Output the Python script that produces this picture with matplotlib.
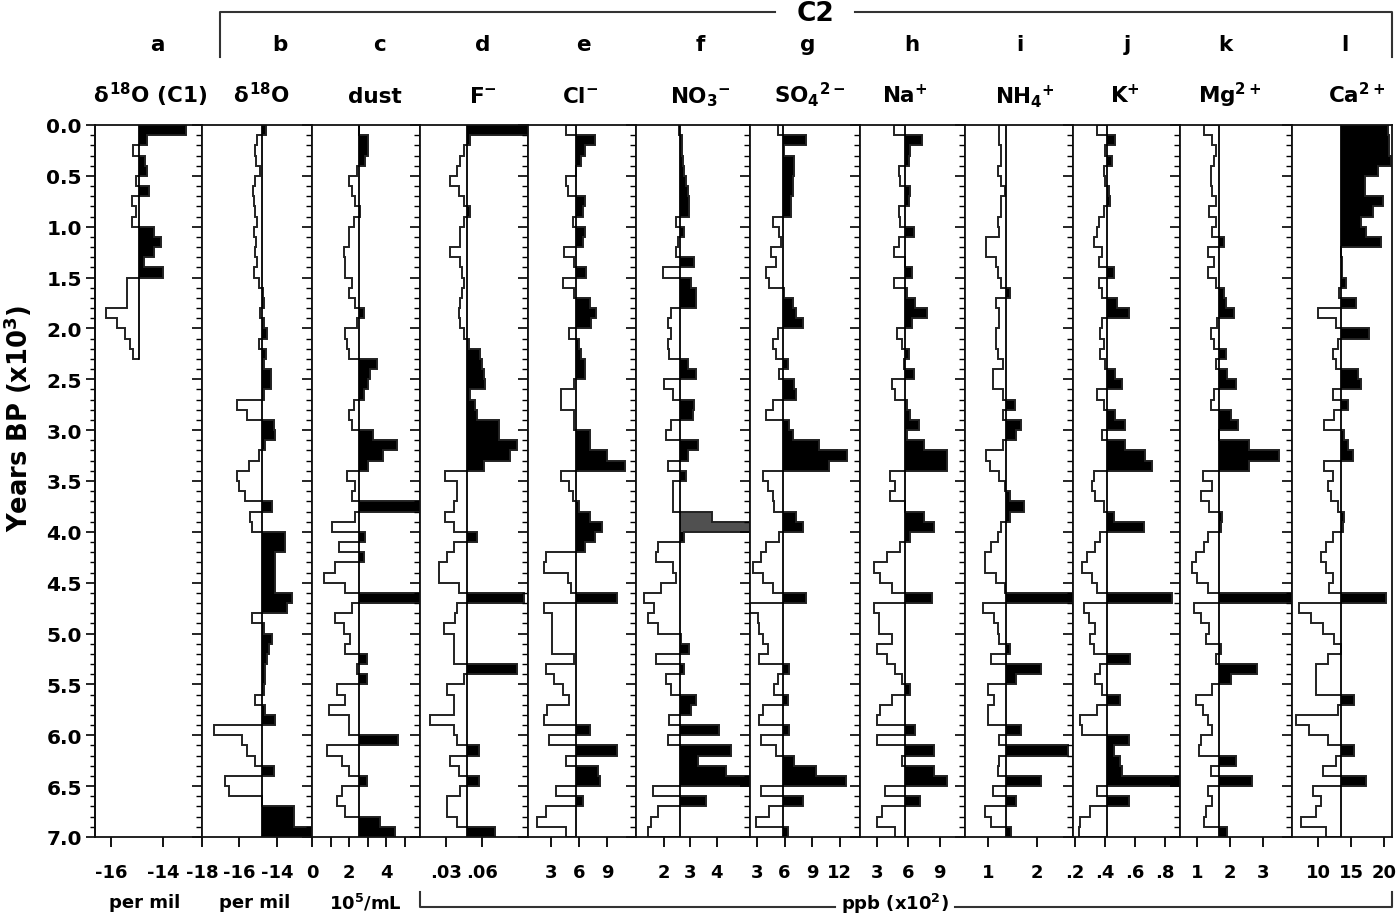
import numpy as np
import matplotlib.pyplot as plt
from matplotlib.lines import Line2D
from matplotlib.ticker import MultipleLocator

plt.rcParams['font.family'] = ['DejaVu Sans']
plt.rcParams['font.weight'] = 'bold'
plt.rcParams['mathtext.fontset'] = 'custom'
plt.rcParams['mathtext.rm'] = 'DejaVu Sans:bold'
plt.rcParams['mathtext.bf'] = 'DejaVu Sans:bold'
plt.rcParams['mathtext.it'] = 'DejaVu Sans:bold'

# 100-yr bins, 0-7 ka BP (core C1 only to 2.3 ka)
d18o_c1 = [-13.10, -14.60, -15.14, -14.68, -14.60, -15.03, -14.53, -15.18, -15.06, -15.18,
           -14.33, -14.06, -14.33, -14.72, -13.99, -15.37, -15.37, -15.37, -16.18, -15.76,
           -15.45, -15.29, -15.14]
d18o = [-14.59, -15.07, -15.16, -15.12, -14.89, -15.16, -15.30, -15.24, -15.19, -15.07,
        -15.24, -15.12, -15.19, -15.07, -15.24, -14.94, -14.75, -14.71, -14.89, -14.71,
        -14.53, -14.98, -14.59, -14.71, -14.30, -14.30, -14.71, -16.13, -15.60, -14.18,
        -14.12, -14.62, -14.98, -15.51, -16.13, -16.04, -15.69, -14.27, -15.42, -15.33,
        -13.56, -13.56, -14.09, -14.09, -14.09, -14.09, -13.20, -13.47, -15.33, -14.71,
        -14.27, -14.44, -14.53, -14.62, -14.66, -14.71, -15.16, -14.62, -14.09, -17.38,
        -15.87, -15.60, -15.16, -14.18, -16.76, -16.58, -14.80, -13.11, -13.11, -12.13]
dust = [2.55, 3.03, 3.03, 2.85, 2.41, 1.97, 2.14, 2.32, 2.59, 2.23,
        1.97, 1.97, 1.70, 1.79, 1.79, 2.14, 1.97, 2.32, 2.77, 2.41,
        1.79, 1.88, 1.97, 3.48, 3.12, 3.03, 2.77, 2.23, 1.97, 2.14,
        3.30, 4.54, 3.83, 3.03, 1.88, 2.32, 2.14, 6.00, 2.32, 1.08,
        2.86, 1.43, 2.77, 1.26, 0.63, 1.79, 6.00, 2.14, 1.26, 1.70,
        2.06, 1.79, 2.94, 2.41, 2.94, 1.34, 1.79, 0.90, 1.97, 1.97,
        4.63, 0.81, 1.61, 1.97, 2.94, 1.61, 1.34, 1.79, 3.66, 4.46]
fluoride = [0.1000, 0.0503, 0.0447, 0.0420, 0.0392, 0.0336, 0.0405, 0.0447, 0.0503, 0.0447,
            0.0420, 0.0420, 0.0336, 0.0420, 0.0433, 0.0447, 0.0433, 0.0420, 0.0405, 0.0420,
            0.0447, 0.0488, 0.0586, 0.0600, 0.0614, 0.0628, 0.0503, 0.0545, 0.0558, 0.0739,
            0.0739, 0.0892, 0.0836, 0.0614, 0.0294, 0.0392, 0.0392, 0.0364, 0.0294, 0.0364,
            0.0558, 0.0364, 0.0309, 0.0239, 0.0239, 0.0405, 0.0947, 0.0392, 0.0377, 0.0281,
            0.0364, 0.0364, 0.0364, 0.0892, 0.0447, 0.0309, 0.0364, 0.0364, 0.0169, 0.0364,
            0.0392, 0.0573, 0.0336, 0.0405, 0.0573, 0.0420, 0.0309, 0.0309, 0.0392, 0.0711]
chloride = [4.59, 7.68, 6.59, 6.23, 5.68, 4.59, 4.77, 6.59, 6.41, 5.32,
            6.59, 6.41, 4.41, 5.50, 6.77, 4.23, 5.50, 7.13, 7.86, 7.32,
            4.95, 6.04, 6.23, 6.59, 6.59, 5.50, 4.04, 4.04, 5.50, 5.50,
            7.13, 7.13, 8.95, 10.95, 4.04, 4.95, 5.32, 6.04, 7.13, 8.41,
            7.68, 6.59, 2.41, 2.23, 4.77, 5.13, 10.04, 2.23, 3.13, 3.13,
            3.13, 3.13, 5.50, 2.41, 3.32, 4.23, 4.95, 2.59, 2.23, 7.13,
            2.77, 10.04, 4.59, 8.04, 8.23, 3.50, 6.41, 2.41, 1.50, 4.59]
nitrate = [2.58, 2.68, 2.68, 2.70, 2.77, 2.83, 2.89, 2.95, 2.95, 2.45,
           2.77, 2.51, 2.45, 3.14, 1.95, 3.02, 3.21, 3.21, 2.26, 2.14,
           2.26, 2.14, 2.20, 2.89, 3.21, 2.01, 2.33, 3.14, 3.08, 2.26,
           2.07, 3.27, 2.89, 2.14, 2.83, 2.33, 2.33, 2.33, 3.83, 5.30,
           2.74, 1.76, 1.70, 2.33, 2.45, 1.89, 1.26, 1.63, 1.38, 1.76,
           2.64, 2.95, 1.70, 2.77, 2.07, 2.26, 3.21, 3.02, 2.20, 4.09,
           2.14, 4.53, 3.27, 4.34, 5.30, 1.57, 3.58, 1.76, 1.51, 1.38]
sulfate = [5.26, 8.33, 5.98, 7.06, 7.06, 6.88, 6.88, 6.70, 6.70, 4.72,
           5.44, 5.62, 4.54, 5.08, 4.00, 4.36, 5.98, 6.88, 7.24, 7.97,
           5.26, 4.72, 5.08, 6.34, 5.44, 7.06, 7.24, 4.72, 4.00, 6.52,
           6.88, 9.77, 12.84, 10.85, 3.63, 4.18, 4.72, 4.90, 7.24, 7.97,
           5.44, 4.00, 3.45, 2.55, 3.63, 4.72, 8.33, 2.19, 3.09, 3.27,
           3.63, 4.18, 3.27, 6.52, 5.26, 4.90, 6.34, 3.63, 3.27, 6.52,
           3.45, 5.08, 7.06, 9.41, 12.66, 3.45, 7.97, 4.36, 2.91, 6.34]
sodium = [4.59, 7.29, 6.18, 6.02, 5.07, 5.22, 6.18, 6.02, 5.07, 5.22,
          6.49, 5.07, 4.59, 5.70, 6.33, 4.59, 5.86, 6.65, 7.76, 6.33,
          4.91, 5.38, 6.02, 5.54, 6.49, 4.43, 4.75, 5.86, 6.18, 6.97,
          5.86, 7.45, 9.67, 9.67, 4.27, 4.75, 4.27, 5.70, 7.45, 8.40,
          6.18, 5.22, 3.95, 2.68, 3.32, 4.43, 8.24, 2.68, 3.16, 3.16,
          4.43, 3.00, 3.95, 4.75, 5.38, 6.18, 4.43, 3.32, 3.00, 6.65,
          3.00, 8.40, 5.38, 8.40, 9.67, 3.80, 7.13, 3.48, 3.00, 4.75]
ammonium = [1.23, 1.23, 1.27, 1.27, 1.20, 1.27, 1.34, 1.27, 1.27, 1.20,
            1.23, 0.96, 0.96, 1.17, 1.20, 1.27, 1.44, 1.17, 1.23, 1.23,
            1.17, 1.17, 1.20, 1.30, 1.10, 1.10, 1.30, 1.54, 1.30, 1.68,
            1.57, 1.30, 0.96, 1.03, 1.23, 1.34, 1.44, 1.74, 1.44, 1.27,
            1.20, 1.06, 0.93, 0.93, 1.17, 1.34, 2.78, 0.89, 1.13, 1.20,
            1.23, 1.44, 1.06, 2.08, 1.57, 1.00, 1.13, 1.00, 1.00, 1.68,
            1.23, 2.63, 1.23, 1.20, 2.08, 1.10, 1.57, 0.93, 1.06, 1.47]
potassium = [0.346, 0.469, 0.402, 0.446, 0.391, 0.402, 0.424, 0.435, 0.391, 0.357,
             0.346, 0.324, 0.380, 0.357, 0.457, 0.357, 0.380, 0.480, 0.557, 0.380,
             0.369, 0.391, 0.369, 0.402, 0.469, 0.513, 0.346, 0.391, 0.469, 0.535,
             0.380, 0.535, 0.669, 0.713, 0.324, 0.313, 0.335, 0.391, 0.457, 0.657,
             0.369, 0.335, 0.280, 0.246, 0.313, 0.346, 0.846, 0.257, 0.291, 0.335,
             0.302, 0.324, 0.569, 0.369, 0.335, 0.380, 0.502, 0.346, 0.235, 0.246,
             0.557, 0.457, 0.502, 0.513, 0.920, 0.346, 0.557, 0.302, 0.235, 0.224]
magnesium = [1.22, 1.47, 1.57, 1.52, 1.42, 1.42, 1.47, 1.57, 1.37, 1.57,
             1.47, 1.82, 1.32, 1.52, 1.32, 1.57, 1.82, 1.87, 2.12, 1.62,
             1.42, 1.52, 1.87, 1.57, 1.92, 2.18, 1.52, 1.42, 2.02, 2.23,
             1.67, 2.58, 3.49, 2.58, 1.17, 1.47, 1.11, 1.37, 1.77, 1.72,
             1.32, 1.22, 0.96, 0.86, 1.01, 1.32, 3.95, 0.91, 1.11, 1.37,
             1.27, 1.72, 1.57, 2.83, 2.02, 1.47, 0.96, 1.17, 1.32, 1.47,
             1.11, 1.06, 2.18, 1.42, 2.68, 1.32, 1.47, 1.27, 1.22, 1.92]
calcium = [20.57, 20.82, 20.82, 21.08, 19.06, 17.04, 17.04, 19.81, 18.30, 16.53,
           17.29, 19.56, 13.50, 13.65, 13.65, 14.26, 13.25, 15.77, 9.96, 12.74,
           17.79, 12.99, 12.24, 12.74, 16.03, 16.53, 12.24, 14.51, 12.49, 10.97,
           14.00, 14.51, 15.27, 10.97, 12.24, 11.48, 11.98, 12.99, 14.00, 13.75,
           12.24, 11.23, 10.47, 11.23, 12.24, 11.73, 20.32, 7.19, 8.95, 10.72,
           12.49, 13.50, 11.48, 9.71, 9.71, 9.71, 15.52, 12.99, 6.68, 8.70,
           11.48, 15.52, 12.74, 10.72, 17.29, 9.21, 10.47, 9.71, 7.44, 11.23]

series = [d18o_c1, d18o, dust, fluoride, chloride, nitrate,
          sulfate, sodium, ammonium, potassium, magnesium, calcium]
means = [-14.91, -14.80, 2.50, 0.0475, 5.68, 2.62, 5.8, 5.7, 1.37, 0.413, 1.67, 13.5]

letters = list('abcdefghijkl')
names = [r'$\delta^{18}$O (C1)', r'$\delta^{18}$O', 'dust', r'F$^{-}$', r'Cl$^{-}$',
         r'NO$_3$$^{-}$', r'SO$_4$$^{2-}$', r'Na$^{+}$', r'NH$_4$$^{+}$', r'K$^{+}$',
         r'Mg$^{2+}$', r'Ca$^{2+}$']
xticks = [[-16, -14], [-18, -16, -14], [0, 1, 2, 3, 4, 5], [0.03, 0.06], [3, 6, 9],
          [2, 3, 4], [3, 6, 9, 12], [3, 6, 9], [1, 2], [0.2, 0.4, 0.6, 0.8], [1, 2, 3],
          [10, 15, 20]]
xticklabels = [['-16', '-14'], ['-18', '-16', '-14'], ['0', '', '2', '', '4', ''],
               ['.03', '.06'], ['3', '6', '9'], ['2', '3', '4'], ['3', '6', '9', '12'],
               ['3', '6', '9'], ['1', '2'], ['.2', '.4', '.6', '.8'], ['1', '2', '3'],
               ['10', '15', '20']]
units = ['per mil', 'per mil', r'10$^5$/mL']
year_ticks = np.arange(0, 7.01, 0.5)

# layout (pixel positions in the 1400x920 frame)
W, H = 1400, 920
bounds = [95, 202, 312, 420, 528, 636, 750, 860, 965, 1073, 1180, 1292, 1392]
xlims = [(-16.62, -12.5), (-18.0, -12.13), (0.0, 5.8), (0.0083, 0.0983),
         (0.53, 12.1), (0.94, 5.25), (2.24, 14.2), (1.38, 11.4), (0.53, 2.73),
         (0.187, 0.90), (0.485, 3.88), (6.06, 21.2)]
letter_x = [157, 280, 380, 483, 583, 700, 808, 912, 1020, 1127, 1225, 1345]
name_x = [150, 262, 375, 483, 580, 700, 810, 905, 1025, 1125, 1230, 1357]
unit_x = [145, 255, 365]
grey_bins = {5: [38, 39]}
y_top, y_bot = 126, 838

fig = plt.figure(figsize=(14, 9.2), dpi=100)
line_col = '#222222'

for k, vals in enumerate(series):
    x0, x1 = bounds[k], bounds[k + 1]
    ax = fig.add_axes([x0 / W, 1 - y_bot / H, (x1 - x0) / W, (y_bot - y_top) / H])
    vals = np.asarray(vals, dtype=float)
    mean = means[k]
    edges = np.linspace(0, 0.1 * len(vals), len(vals) + 1)
    hi = vals > mean
    cols = np.array(['black'] * len(vals), dtype=object)
    for b in grey_bins.get(k, []):
        cols[b] = '#505050'
    ax.barh(edges[:-1][hi], vals[hi] - mean, left=mean, height=0.1, align='edge',
            color=list(cols[hi]), linewidth=0)
    ax.stairs(vals, edges, baseline=mean, orientation='horizontal',
              color=line_col, linewidth=1.4)
    ax.plot([mean, mean], [0, edges[-1]], color='black', linewidth=1.3)

    ax.set_xlim(*xlims[k])
    ax.set_ylim(7.0, 0.0)
    for s in ax.spines.values():
        s.set_linewidth(1.3)
        s.set_color('#111111')

    ax.set_xticks(xticks[k])
    ax.set_xticklabels(xticklabels[k])
    ax.tick_params(axis='x', direction='out', length=7.5, width=1.3, pad=11, labelsize=13)

    ax.yaxis.set_major_locator(MultipleLocator(0.5))
    ax.yaxis.set_minor_locator(MultipleLocator(0.1))
    ax.tick_params(axis='y', which='both', left=False, labelleft=False,
                   right=(k < 11), direction='in')
    ax.tick_params(axis='y', which='major', length=7, width=1.2)
    ax.tick_params(axis='y', which='minor', length=4.5, width=1.0)

    if k == 0:
        sec = ax.secondary_yaxis('left')
        sec.set_yticks(year_ticks)
        sec.set_yticklabels([f'{v:.1f}' for v in year_ticks])
        sec.yaxis.set_minor_locator(MultipleLocator(0.1))
        sec.tick_params(axis='y', which='major', direction='out', length=6.5, width=1.2,
                        labelsize=14.5, pad=3)
        sec.tick_params(axis='y', which='minor', direction='out', length=3.5, width=1.0)
        sec.spines['left'].set_linewidth(1.3)

    fig.text(letter_x[k] / W, 1 - 45 / H, letters[k], ha='center', va='center',
             fontsize=15.5, fontweight='bold')
    fig.text(name_x[k] / W, 1 - 103 / H, names[k], ha='center', va='baseline',
             fontsize=15.5, fontweight='bold')

for ux, u in zip(unit_x, units):
    fig.text(ux / W, 1 - 903 / H, u, ha='center', va='center', fontsize=13, fontweight='bold')

fig.text(18 / W, 1 - 418 / H, r'Years BP (x10$^3$)', rotation=90, ha='center', va='center',
         fontsize=18.5, fontweight='bold')


def fig_line(xs, ys):
    fig.add_artist(Line2D([x / W for x in xs], [1 - y / H for y in ys],
                          color='#333333', linewidth=1.5))


# C2 bracket on top
fig_line([220, 220, 775], [58, 13, 13])
fig_line([855, 1392, 1392], [13, 13, 58])
fig.text(815 / W, 1 - 14 / H, 'C2', ha='center', va='center', fontsize=19, fontweight='bold')

# ppb bracket at the bottom
fig_line([420, 420, 835], [893, 908, 908])
fig_line([955, 1392, 1392], [908, 908, 893])
fig.text(895 / W, 1 - 904 / H, r'ppb (x10$^2$)', ha='center', va='center',
         fontsize=13, fontweight='bold')

fig.savefig('out.png', dpi=100, facecolor='white')
